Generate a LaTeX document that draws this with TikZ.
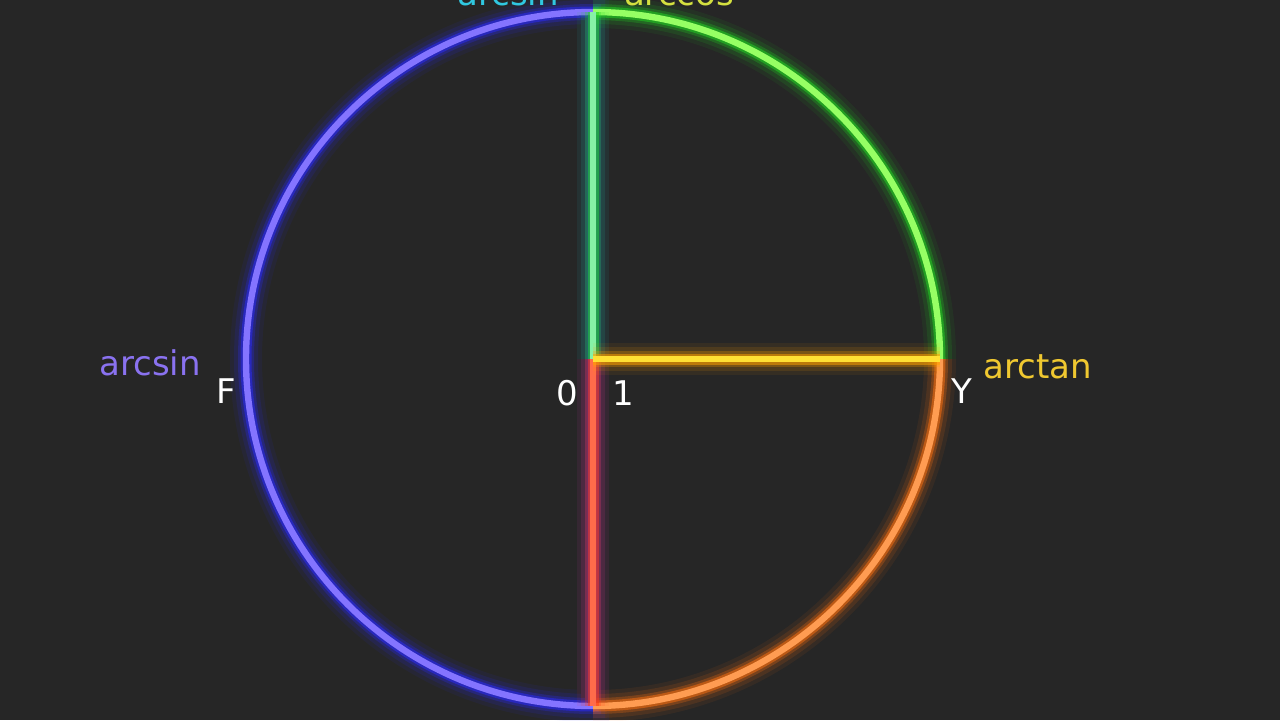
\documentclass[tikz,border=0pt]{standalone}
\usepackage{fontspec}
\setmainfont{DejaVu Sans}
\definecolor{bgdark}{HTML}{262626}
\definecolor{glowblue}{HTML}{2A2AFF}
\definecolor{coreblue}{HTML}{8474FF}
\definecolor{glowgreen}{HTML}{22D422}
\definecolor{coregreen}{HTML}{96FF64}
\definecolor{corevert}{HTML}{86F2A6}
\definecolor{gloworange}{HTML}{FF7010}
\definecolor{coreorange}{HTML}{FF9C52}
\definecolor{glowred}{HTML}{FF3A10}
\definecolor{corered}{HTML}{FF6C4A}
\definecolor{glowyellow}{HTML}{FFA000}
\definecolor{coreyellow}{HTML}{FFE034}
\definecolor{txtcyan}{HTML}{30C8E0}
\definecolor{txtlime}{HTML}{D4E040}
\definecolor{txtpurple}{HTML}{8A72F0}
\definecolor{txtyellow}{HTML}{F0C830}
\begin{document}
\begin{tikzpicture}[x=0.5pt, y=0.5pt,
    glow/.style={preaction={draw=#1, line width=16pt, opacity=0.07},
                 preaction={draw=#1, line width=12pt, opacity=0.12},
                 preaction={draw=#1, line width=8pt, opacity=0.25},
                 preaction={draw=#1, line width=5.5pt, opacity=0.5}},
    neon/.style={line width=3.2pt, line cap=butt},
    tag/.style={font=\fontsize{17}{20}\selectfont, inner sep=0pt, anchor=base}]
    \fill[bgdark] (0,0) rectangle (1280,720);
    \clip (0,0) rectangle (1280,720);

    \coordinate (O) at (593,361);
    \coordinate (T) at (593,708);
    \coordinate (B) at (593,14);
    \coordinate (R) at (940,361);

    % left half
    \draw[neon, glow=glowblue, draw=coreblue] (T) arc[start angle=90, end angle=270, radius=347] -- cycle;
    % right quarters
    \draw[neon, glow=glowgreen, draw=coregreen] (T) arc[start angle=90, end angle=0, radius=347];
    \draw[neon, glow=gloworange, draw=coreorange] (R) arc[start angle=0, end angle=-90, radius=347];
    \draw[neon, glow=glowgreen, draw=corevert] (O) -- (T);
    \draw[neon, glow=glowred, draw=corered] (O) -- (B);
    \draw[neon, glow=glowyellow, draw=coreyellow] (O) -- (R);

    \node[tag, white] (zero) at (567,315) {0};
    \node[tag, white] (one) at (623,315) {1};
    \node[tag, white] (ypt) at (962,317) {Y};
    \node[tag, white] (fpt) at (226,317) {F};
    \node[tag, txtpurple] (asinl) at (150,345) {arcsin};
    \node[tag, txtyellow] (atan) at (1038,342) {arctan};
    \node[tag, txtcyan] (asint) at (508,715) {arcsin};
    \node[tag, txtlime] (acos) at (679,715) {arccos};
\end{tikzpicture}
\end{document}
